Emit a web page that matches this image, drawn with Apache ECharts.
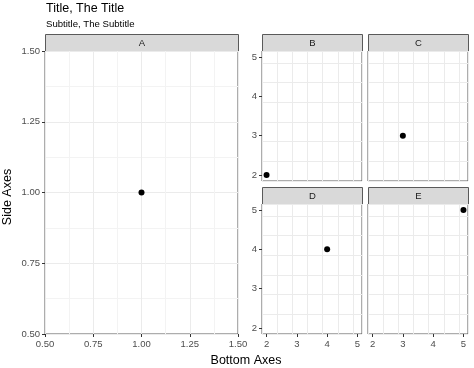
<!DOCTYPE html>
<html>
<head>
<meta charset="utf-8">
<script src="https://cdn.jsdelivr.net/npm/echarts@6/dist/echarts.min.js"></script>
<style>
    html, body {margin: 0; padding: 0; background: #fff;}
    #chartBox {width: 474px; height: 368px;}
</style>
</head>
<body>
<div id="chartBox"></div>
<script>
// facet names and the one point in each facet
var panelNames = ['A', 'B', 'C', 'D', 'E'];
var xValues = [1, 2, 3, 4, 5];
var yValues = [1, 2, 3, 4, 5];
// tick labels
var bigTicks = [0.50, 0.75, 1.00, 1.25, 1.50];
var smallTicks = [2, 3, 4, 5];

var FONT = '"Liberation Sans", Arial, sans-serif';
var BORDER = '#5a5a5a';
var GRIDLINE = '#ebebeb';

// panel boxes: left, top, width, height ; which axes carry labels
var boxes = [
    {l: 45, t: 51, w: 193, h: 283, xl: true, yl: true},
    {l: 262, t: 51, w: 100, h: 130, xl: false, yl: true},
    {l: 368, t: 51, w: 100, h: 130, xl: false, yl: false},
    {l: 262, t: 204, w: 100, h: 130, xl: true, yl: true},
    {l: 368, t: 204, w: 100, h: 130, xl: true, yl: false}
];

/**
 * 坐标轴: grid-line axis (kind 'grid') or label axis (kind 'label')
 */
function makeAxis(i, dir, kind) {
    var big = i === 0;
    var b = boxes[i];
    var showLab = (dir === 'x' ? b.xl : b.yl) && kind === 'label';
    var ax = {
        type: 'value',
        gridIndex: i,
        position: dir === 'x' ? 'bottom' : 'left',
        min: big ? bigTicks[0] : 1.85,
        max: big ? bigTicks[bigTicks.length - 1] : 5.15,
        interval: big ? 0.25 : 0.5,
        axisLine: {show: false},
        axisTick: {show: showLab, length: 3, lineStyle: {color: '#333', width: 1}},
        axisLabel: {
            show: showLab,
            margin: 5,
            color: '#4d4d4d',
            fontFamily: FONT,
            fontSize: 9.5,
            formatter: function (v) {
                return big ? v.toFixed(2) : String(v);
            }
        },
        splitLine: {show: kind === 'grid', lineStyle: {color: GRIDLINE, width: 1}}
    };
    if (big && kind === 'grid') {
        ax.minorTick = {show: false, splitNumber: 2};
        ax.minorSplitLine = {show: true, lineStyle: {color: '#f3f3f3', width: 1}};
    }
    if (!big && kind === 'label') {
        ax.axisLabel.customValues = smallTicks;
        ax.axisTick.customValues = smallTicks;
    }
    return ax;
}

function stripGraphic(i) {
    var b = boxes[i];
    return {
        type: 'group',
        left: b.l,
        top: b.t - 17,
        children: [
            {
                type: 'rect',
                shape: {x: 0, y: 0, width: b.w, height: 17},
                style: {fill: '#d9d9d9', stroke: BORDER, lineWidth: 1}
            },
            {
                type: 'text',
                x: b.w / 2,
                y: 8.5,
                style: {
                    text: panelNames[i],
                    fill: '#1a1a1a',
                    font: '9.5px ' + FONT,
                    align: 'center',
                    verticalAlign: 'middle'
                }
            }
        ]
    };
}

function FacetChart() {
    var myChart = echarts.init(document.getElementById('chartBox'));
    var grids = [], xAxes = [], yAxes = [], series = [], graphics = [];
    for (var i = 0; i < panelNames.length; i++) {
        var b = boxes[i];
        grids.push({
            left: b.l, top: b.t, width: b.w, height: b.h,
            show: true, backgroundColor: '#fff',
            borderColor: BORDER, borderWidth: 1
        });
        // 2 axes per direction: one for the grid lines, one for ticks + labels
        xAxes.push(makeAxis(i, 'x', 'grid'));
        yAxes.push(makeAxis(i, 'y', 'grid'));
        xAxes.push(makeAxis(i, 'x', 'label'));
        yAxes.push(makeAxis(i, 'y', 'label'));
        series.push({
            name: panelNames[i],
            type: 'scatter',
            xAxisIndex: 2 * i,
            yAxisIndex: 2 * i,
            symbolSize: 6,
            itemStyle: {color: '#000', opacity: 1},
            z: 5,
            data: [[xValues[i], yValues[i]]]
        });
        graphics.push(stripGraphic(i));
    }
    graphics.push({
        type: 'text', x: 246, y: 361,
        style: {text: 'Bottom Axes', fill: '#000', font: '12.5px ' + FONT, align: 'center', verticalAlign: 'middle'}
    });
    graphics.push({
        type: 'text', x: 8, y: 197, rotation: Math.PI / 2,
        style: {text: 'Side Axes', fill: '#000', font: '12.5px ' + FONT, align: 'center', verticalAlign: 'middle'}
    });
    var option = {
        animation: false,
        backgroundColor: '#fff',
        title: {
            text: 'Title, The Title',
            subtext: 'Subtitle, The Subtitle',
            left: 46,
            top: 2,
            itemGap: 4,
            textStyle: {fontFamily: FONT, fontSize: 12.5, fontWeight: 'normal', color: '#000'},
            subtextStyle: {fontFamily: FONT, fontSize: 9.6, color: '#000'},
            padding: 0
        },
        grid: grids,
        xAxis: xAxes,
        yAxis: yAxes,
        series: series,
        graphic: graphics
    };
    myChart.setOption(option);
}

FacetChart();
</script>
</body>
</html>
